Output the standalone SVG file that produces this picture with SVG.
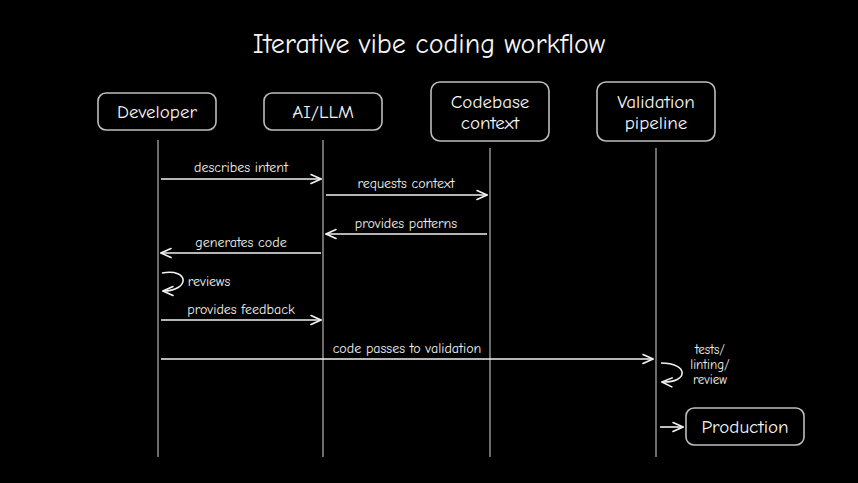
<svg xmlns="http://www.w3.org/2000/svg" width="858" height="483" viewBox="0 0 858 483">
<defs>
<marker id="ah" viewBox="0 0 12 12" refX="11" refY="6" markerWidth="12" markerHeight="12" markerUnits="userSpaceOnUse" orient="auto">
<path d="M1,1.5 L11,6 L1,10.5" fill="none" stroke="#f2f2f2" stroke-width="1.6" stroke-linecap="round"/>
</marker>
</defs>
<style>
.bg{fill:#000}
.box{fill:#000;stroke:#bdbdbd;stroke-width:1.6}
.life{stroke:#9a9a9a;stroke-width:1.4;fill:none}
.msg{stroke:#f2f2f2;stroke-width:1.6;fill:none;marker-end:url(#ah)}
.nt{font-family:"Comic Neue","Liberation Sans",sans-serif;font-size:19px;fill:#f5f5f5;text-anchor:middle}
.lt{font-family:"Comic Neue","Liberation Sans",sans-serif;font-size:14px;fill:#f2f2f2;text-anchor:middle}
.st{font-family:"Comic Neue","Liberation Sans",sans-serif;font-size:13px;fill:#f2f2f2;text-anchor:middle}
.tt{font-family:"Comic Neue","Liberation Sans",sans-serif;font-size:28px;fill:#f5f5f5;text-anchor:middle}
</style>
<rect class="bg" x="0" y="0" width="858" height="483"/>
<text class="tt" x="429" y="53">Iterative vibe coding workflow</text>

<g id="lifelines">
<line class="life" x1="158" y1="140" x2="158" y2="457"/>
<line class="life" x1="323" y1="140" x2="323" y2="457"/>
<line class="life" x1="490" y1="148" x2="490" y2="457"/>
<line class="life" x1="656" y1="148" x2="656" y2="457"/>
</g>

<g id="developer">
<rect class="box" x="98" y="93" width="118" height="37" rx="8"/>
<text class="nt" x="157" y="118">Developer</text>
</g>
<g id="ai-llm">
<rect class="box" x="264" y="93" width="118" height="37" rx="8"/>
<text class="nt" x="323" y="118">AI/LLM</text>
</g>
<g id="codebase">
<rect class="box" x="431" y="82" width="118" height="59" rx="9"/>
<text class="nt" x="490" y="108">Codebase</text>
<text class="nt" x="490" y="129">context</text>
</g>
<g id="validation">
<rect class="box" x="597" y="82" width="118" height="59" rx="9"/>
<text class="nt" x="656" y="108">Validation</text>
<text class="nt" x="656" y="129">pipeline</text>
</g>
<g id="production">
<rect class="box" x="686" y="408" width="118" height="37" rx="8"/>
<text class="nt" x="745" y="433">Production</text>
</g>

<g id="connectors">
<line class="msg" x1="161" y1="179" x2="321" y2="179"/>
<text class="lt" x="241" y="172">describes intent</text>
<line class="msg" x1="326" y1="195" x2="487" y2="195"/>
<text class="lt" x="406" y="188">requests context</text>
<line class="msg" x1="487" y1="234" x2="326" y2="234"/>
<text class="lt" x="406" y="228">provides patterns</text>
<line class="msg" x1="321" y1="253" x2="161" y2="253"/>
<text class="lt" x="241" y="247">generates code</text>
<path class="msg" d="M162,273 C190,268 190,291 163,291"/>
<text class="lt" x="209" y="286">reviews</text>
<line class="msg" x1="161" y1="320" x2="321" y2="320"/>
<text class="lt" x="241" y="314">provides feedback</text>
<line class="msg" x1="161" y1="359" x2="653" y2="359"/>
<text class="lt" x="407" y="353">code passes to validation</text>
<path class="msg" d="M661,363 C689,363 689,383 662,382"/>
<text class="st" x="710" y="354">tests/</text>
<text class="st" x="710" y="369">linting/</text>
<text class="st" x="710" y="384">review</text>
<line class="msg" x1="660" y1="427" x2="683" y2="427"/>
</g>
</svg>
